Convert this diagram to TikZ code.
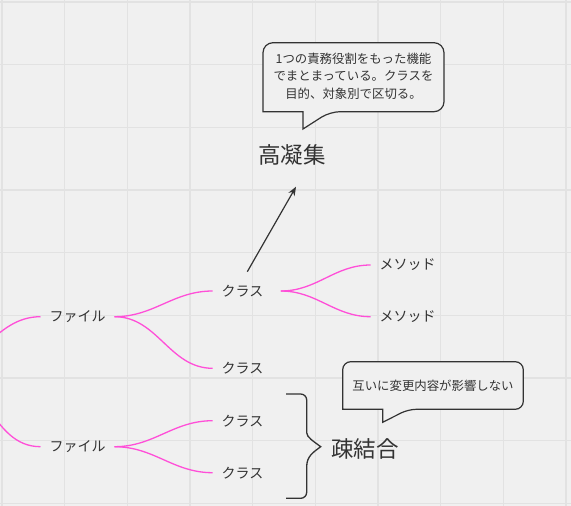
\documentclass[tikz,border=0pt]{standalone}
\usepackage{fontspec}
\newfontfamily\jp{Noto Sans CJK JP}
\usetikzlibrary{arrows.meta}
\definecolor{bgc}{HTML}{F0F0F0}
\definecolor{gridc}{HTML}{E2E2E2}
\definecolor{inkc}{HTML}{333333}
\definecolor{pinkc}{HTML}{FF4FD8}
\begin{document}
\begin{tikzpicture}[x=1pt,y=-1pt,
  lbl/.style={font=\jp\fontsize{14}{16}\selectfont, text=inkc, inner xsep=8.8pt, inner ysep=2pt},
  big/.style={font=\jp\fontsize{22.5}{26}\selectfont, text=inkc, inner sep=2pt},
  note/.style={font=\jp\fontsize{12.4}{17.5}\selectfont, text=inkc, align=center, inner sep=0pt},
  bubble/.style={draw=inkc, line width=1.2pt, fill=bgc},
  branch/.style={draw=pinkc, line width=1.3pt},
  arr/.style={draw=inkc, line width=1.2pt, -{Stealth[length=9pt,width=7pt]}},
  bracepath/.style={draw=inkc, line width=1.3pt},
  gridl/.style={draw=gridc, line width=1.2pt}]
\useasboundingbox (0,0) rectangle (571,506);
\fill[bgc] (0,0) rectangle (571,506);
\foreach \i in {0,...,9} { \draw[gridl] ({2+62.67*\i},0) -- ({2+62.67*\i},506); }
\foreach \i in {0,...,8} { \draw[gridl] (0,{2+62.67*\i}) -- (571,{2+62.67*\i}); }

% speech bubbles
\draw[bubble] (303,129) -- (303,111.7) -- (263,111.7) [rounded corners=10pt] -- (263,42.7) -- (444,42.7) -- (444,111.7) -- (330,111.7) [sharp corners] -- cycle;
\draw[bubble] (382.7,422.3) -- (382.7,409.3) -- (342.7,409.3) [rounded corners=8pt] -- (342.7,361.7) -- (523.3,361.7) -- (523.3,409.3) -- (408.3,409.3) [sharp corners] -- cycle;

\node[note] (n1) at (353.5,76) {1つの責務役割をもった機能\\でまとまっている。クラスを\\目的、対象別で区切る。};
\node[note] (n2) at (433,386) {互いに変更内容が影響しない};

% labels
\coordinate (root) at (-65,369);
\node[lbl] (f1) at (77.5,316.7) {ファイル};
\node[lbl] (f2) at (77.5,446.7) {ファイル};
\node[lbl] (c1) at (242.5,291) {クラス};
\node[lbl] (c2) at (242.5,368.3) {クラス};
\node[lbl] (c3) at (242.5,420.7) {クラス};
\node[lbl] (c4) at (242.5,472.7) {クラス};
\node[lbl] (m1) at (407.7,265) {メソッド};
\node[lbl] (m2) at (407.7,316.7) {メソッド};
\node[big] (kg) at (292,155) {高凝集};
\node[big] (sk) at (365,449) {疎結合};

% branches
\draw[branch] (root) to[out=0,in=180] (f1.west);
\draw[branch] (root) to[out=0,in=180] (f2.west);
\draw[branch] (f1.east) to[out=0,in=180] (c1.west);
\draw[branch] (f1.east) to[out=0,in=180] (c2.west);
\draw[branch] (f2.east) to[out=0,in=180] (c3.west);
\draw[branch] (f2.east) to[out=0,in=180] (c4.west);
\draw[branch] ([xshift=8.4pt]c1.east) to[out=0,in=180] (m1.west);
\draw[branch] ([xshift=8.4pt]c1.east) to[out=0,in=180] (m2.west);

% arrow
\draw[arr] ([shift={(4.8,-19.3)}]c1.center) -- ([shift={(4,31.7)}]kg.center);

% brace
\draw[bracepath] (286,394) [rounded corners=6pt] -- (306.7,394) -- (306.7,426.7) [sharp corners] .. controls (306.7,437) and (313,441) .. (320.7,446.7) .. controls (313,452.4) and (306.7,456.4) .. (306.7,466.7) [rounded corners=6pt] -- (306.7,498.3) -- (286,498.3);
\end{tikzpicture}
\end{document}
